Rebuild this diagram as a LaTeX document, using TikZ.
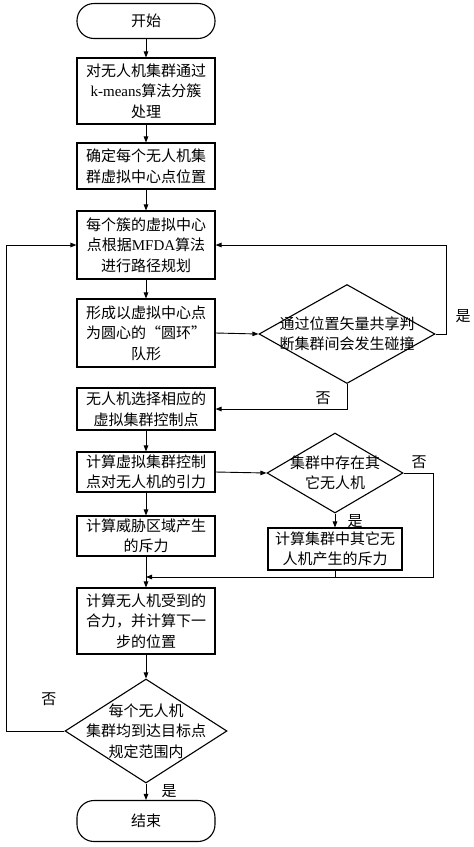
\documentclass[tikz,border=0pt]{standalone}
\usepackage{fontspec}
\setmainfont{Noto Sans CJK SC}
\newfontfamily\lat{Liberation Serif}
\usetikzlibrary{shapes.geometric, arrows.meta}

\begin{document}
\begin{tikzpicture}[x=1pt, y=-1pt,
  cjk/.style={font=\fontsize{15}{20.5}\selectfont},
  box/.style={draw, line width=1.1pt, minimum width=138pt, align=center, inner sep=0pt, cjk},
  term/.style={box, rounded corners=17pt},
  decision/.style={draw, diamond, line width=1.1pt, inner sep=0pt},
  arr/.style={line width=0.9pt, -{Triangle[length=6pt, width=4.5pt]}},
  line/.style={line width=0.9pt}]
  \useasboundingbox (0,0) rectangle (474,847);

  % Main column
  \node[term, minimum height=35pt] (start) at (146, 21) {开始};
  \node[box, minimum height=66pt] (cluster) at (146, 91) {对无人机集群通过\\{\lat k-means}算法分簇\\处理};
  \node[box, minimum height=46pt] (center) at (146, 166) {确定每个无人机集\\群虚拟中心点位置};
  \node[box, minimum height=68pt] (plan) at (146, 245) {每个簇的虚拟中心\\点根据{\lat MFDA}算法\\进行路径规划};
  \node[box, minimum height=68pt] (ring) at (146, 333) {形成以虚拟中心点\\为圆心的“圆环”\\队形};
  \node[box, minimum height=42pt] (select) at (146, 409) {无人机选择相应的\\虚拟集群控制点};
  \node[box, minimum height=40pt] (attract) at (146, 472) {计算虚拟集群控制\\点对无人机的引力};
  \node[box, minimum height=40pt] (threat) at (146, 536) {计算威胁区域产生\\的斥力};
  \node[box, minimum height=66pt] (total) at (146, 621) {计算无人机受到的\\合力，并计算下一\\步的位置};
  \node[term, minimum height=41pt] (stop) at (146, 821) {结束};

  % Decisions
  \node[decision, minimum width=176pt, minimum height=99pt] (collide) at (347, 334) {};
  \node[cjk, align=center] (collidetext) at (collide) {通过位置矢量共享判\\断集群间会发生碰撞};
  \node[decision, minimum width=136pt, minimum height=80pt] (others) at (335, 473) {};
  \node[cjk, align=center] (otherstext) at (others) {集群中存在其\\它无人机};
  \node[box, minimum width=134pt, minimum height=42pt] (repel) at (335, 549) {计算集群中其它无\\人机产生的斥力};
  \node[decision, minimum width=162pt, minimum height=104pt] (arrive) at (146, 731) {};
  \node[cjk, align=center] (arrivetext) at (arrive) {每个无人机\\集群均到达目标点\\规定范围内};

  % Labels
  \node[cjk] (yes1) at (463, 316) {是};
  \node[cjk] (no1) at (323, 398) {否};
  \node[cjk] (no2) at (419, 462) {否};
  \node[cjk] (yes2) at (355, 521) {是};
  \node[cjk] (no3) at (49, 699) {否};
  \node[cjk] (yes3) at (169, 791) {是};

  % Helper points
  \coordinate (merge) at (146, 577);
  \coordinate (mergeright) at (433, 577);
  \coordinate (loopright) at (446, 334);
  \coordinate (loopleft) at (6, 731);

  % Connectors
  \draw[arr] (start) -- (cluster);
  \draw[arr] (cluster) -- (center);
  \draw[arr] (center) -- (plan);
  \draw[arr] (plan) -- (ring);
  \draw[arr] (ring.east) -- (collide.west);
  \draw[arr] (collide.east) -- (loopright) |- (plan.east);
  \draw[arr] (collide.south) |- (select.east);
  \draw[arr] (select) -- (attract);
  \draw[arr] (attract) -- (threat);
  \draw[arr] (attract.east) -- (others.west);
  \draw[arr] (others.south) -- (repel.north);
  \draw[line] (repel.south) -- (repel.south |- merge);
  \draw[arr] (others.east) -| (mergeright) -- (merge);
  \draw[arr] (threat) -- (total);
  \draw[arr] (total) -- (arrive);
  \draw[arr] (arrive) -- (stop);
  \draw[arr] (arrive.west) -- (loopleft) |- (plan.west);
\end{tikzpicture}
\end{document}
